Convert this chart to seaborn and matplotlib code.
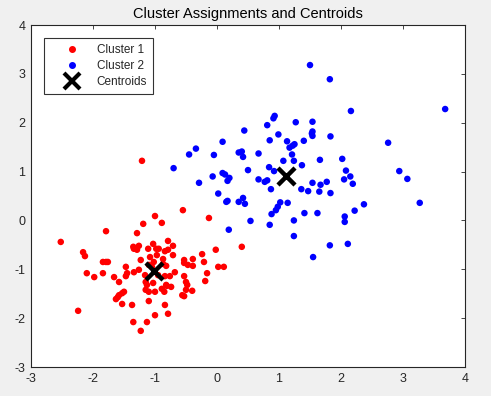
import numpy as np
import pandas as pd
import matplotlib
matplotlib.use("Agg")
import matplotlib.pyplot as plt
import seaborn as sns
from matplotlib.lines import Line2D

# ---- data ----
c1_x = [-1.21, -1.00, -1.19, -0.89, -1.79, -1.29, -2.52, -1.35, -1.34, -1.26,
        -1.29, -1.11, -1.03, -0.98, -0.94, -0.79, -0.71, -0.79, -2.16, -2.13,
        -1.08, -0.97, -0.87, -0.71, -1.23, -1.84, -1.79, -1.76, -1.02, -0.87,
        -0.82, -1.10, -1.47, -1.26, -1.34, -1.45, -1.47, -2.10, -1.98, -1.84,
        -1.66, -1.58, -1.16, -0.95, -0.84, -0.68, -0.76, -1.15, -1.03, -1.13,
        -0.82, -0.81, -0.74, -0.89, -0.85, -1.15, -1.10, -1.00, -1.50, -1.53,
        -1.58, -1.63, -1.60, -1.10, -1.37, -1.53, -0.84, -2.24, -1.00, -1.35,
        -1.13, -1.23, -0.55, -0.13, 0.40, -0.02, -0.84, -0.24, -0.39, -0.53,
        -0.21, -0.47, -0.39, -0.53, 0.02, 0.11, -0.16, -1.05, -0.53, -0.50,
        -0.48, -0.19, -0.50, -0.40, -0.56, -0.53, -0.79]
c1_y = [1.22, 0.09, -0.07, -0.05, -0.22, -0.26, -0.44, -0.54, -0.58, -0.52,
        -0.60, -0.58, -0.48, -0.58, -0.58, -0.42, -0.52, -0.60, -0.65, -0.73,
        -0.75, -0.71, -0.79, -0.71, -0.81, -0.85, -0.85, -0.85, -0.85, -0.89,
        -0.93, -0.91, -0.95, -1.01, -1.06, -1.08, -1.14, -1.08, -1.16, -1.08,
        -1.16, -1.26, -1.12, -1.12, -1.14, -1.06, -1.14, -1.26, -1.28, -1.32,
        -1.32, -1.34, -1.36, -1.40, -1.46, -1.42, -1.46, -1.46, -1.46, -1.49,
        -1.53, -1.61, -1.57, -1.65, -1.73, -1.71, -1.73, -1.85, -1.94, -2.08,
        -2.08, -2.26, 0.21, 0.05, -0.54, -0.60, -0.63, -0.69, -0.79, -0.81,
        -0.85, -0.91, -0.93, -0.87, -0.95, -0.95, -1.08, -0.95, -1.14, -1.26,
        -1.32, -1.24, -1.42, -1.44, -1.53, -1.55, -1.91]

c2_x = [0.93, 0.91, 1.27, 0.81, 0.44, 0.99, 0.85, 0.09, 1.13, 1.25,
        1.22, 1.17, -0.34, -0.45, -0.05, 0.35, 0.40, 0.42, 0.67, 1.21,
        1.07, 1.24, -0.70, 0.50, 0.84, 0.92, 0.09, 0.13, 0.20, 0.17,
        -0.07, -0.29, 0.67, 0.77, 0.81, 0.87, 0.02, 0.15, 0.17, 0.42,
        0.35, 0.45, 1.02, 1.14, 0.98, 0.95, 0.88, 0.54, 0.85, 0.19,
        1.24, 1.24, 1.50, 1.82, 2.16, 3.68, 1.54, 1.54, 1.53, 1.54,
        1.83, 1.40, 2.76, 1.37, 1.66, 2.02, 2.08, 2.05, 2.15, 2.19,
        2.94, 3.07, 1.54, 1.67, 1.77, 1.36, 1.47, 1.65, 1.83, 3.27,
        2.37, 2.22, 1.41, 1.62, 2.06, 2.06, 1.82, 2.11, 1.55]
c2_y = [2.14, 2.09, 2.01, 1.95, 1.84, 1.76, 1.64, 1.61, 1.62, 1.56,
        1.53, 1.49, 1.47, 1.35, 1.34, 1.39, 1.41, 1.30, 1.37, 1.35,
        1.22, 1.22, 1.07, 1.03, 1.09, 1.01, 0.97, 0.94, 0.87, 0.81,
        0.90, 0.77, 0.84, 0.79, 0.82, 0.64, 0.55, 0.38, 0.40, 0.46,
        0.38, 0.34, 0.37, 0.36, 0.28, 0.21, 0.13, -0.01, -0.09, -0.19,
        0.00, -0.32, 3.18, 2.89, 2.24, 2.28, 2.02, 1.82, 1.78, 1.73,
        1.72, 1.63, 1.59, 1.13, 1.24, 1.26, 1.02, 0.84, 0.90, 0.75,
        1.01, 0.85, 0.77, 0.73, 0.79, 0.64, 0.60, 0.59, 0.56, 0.36,
        0.33, 0.20, 0.15, 0.15, 0.08, -0.03, -0.51, -0.48, -0.75]

cent_x = [-1.01, 1.12]
cent_y = [-1.03, 0.90]

labels = ["Cluster 1", "Cluster 2", "Centroids"]

df = pd.DataFrame({
    "x": c1_x + c2_x,
    "y": c1_y + c2_y,
    "cluster": [labels[0]] * len(c1_x) + [labels[1]] * len(c2_x),
})

sns.set_style("white")
plt.rcParams["font.family"] = ["Liberation Sans", "DejaVu Sans"]
plt.rcParams["axes.unicode_minus"] = False

fig = plt.figure(figsize=(4.91, 3.96), dpi=100, facecolor="#f0f0f0")
ax = fig.add_axes([31 / 491, 29 / 396, 434 / 491, 342 / 396])
ax.set_facecolor("white")

sns.scatterplot(data=df, x="x", y="y", hue="cluster",
                palette={labels[0]: "#ff0000", labels[1]: "#0000ff"},
                s=22, linewidth=0, ax=ax, legend=False, zorder=3)
ax.scatter(cent_x, cent_y, marker="x", s=150, linewidths=3.2,
           color="black", zorder=4)

ax.set_xlim(-3, 4)
ax.set_ylim(-3, 4)
ax.set_xticks(range(-3, 5))
ax.set_yticks(range(-3, 5))
ax.set_xlabel("")
ax.set_ylabel("")
ax.tick_params(direction="in", length=3, width=0.6, top=True, right=True,
               labelsize=9, colors="#262626", pad=4)
for sp in ax.spines.values():
    sp.set_visible(True)
    sp.set_color("#262626")
    sp.set_linewidth(0.8)
ax.set_title("Cluster Assignments and Centroids", fontsize=10.5,
             color="black", pad=5)

handles = [
    Line2D([], [], marker="o", linestyle="", color="#ff0000", markersize=4),
    Line2D([], [], marker="o", linestyle="", color="#0000ff", markersize=4),
    Line2D([], [], marker="x", linestyle="", color="black", markersize=11,
           markeredgewidth=3),
]
leg = ax.legend(handles, labels, loc="upper left",
                bbox_to_anchor=(13 / 434, 1 - 13 / 342),
                fontsize=8.5, frameon=True, fancybox=False,
                edgecolor="black", borderpad=0.5, handletextpad=0.25,
                labelspacing=0.35, handlelength=3.7, borderaxespad=0)
leg.get_frame().set_linewidth(0.8)

fig.savefig("out.png", dpi=100, facecolor=fig.get_facecolor())
